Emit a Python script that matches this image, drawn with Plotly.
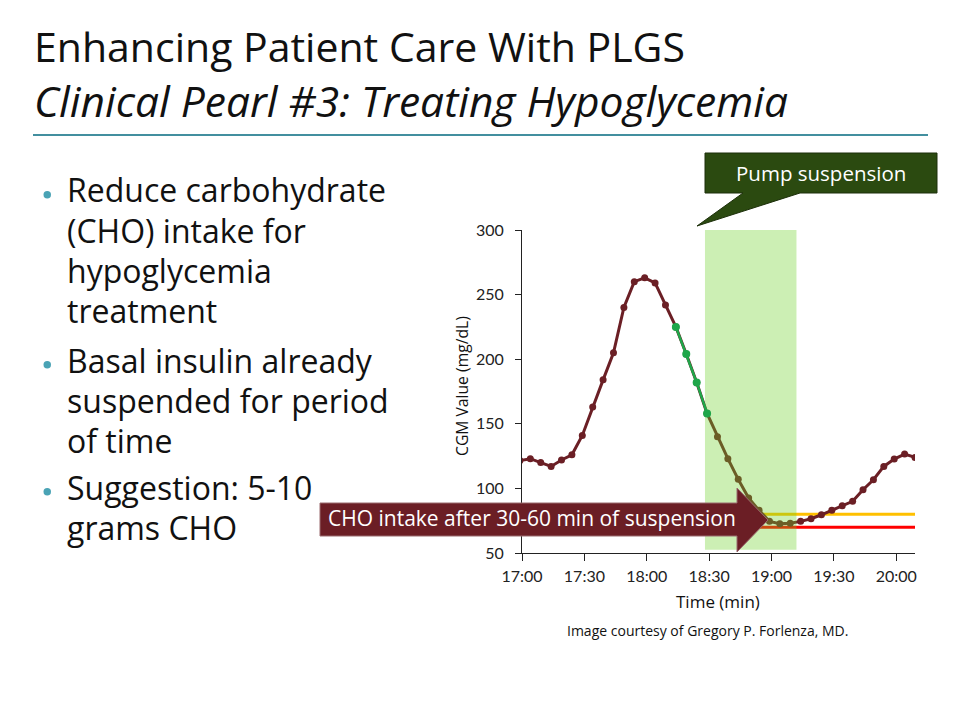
import plotly.graph_objects as go

# ---------------- data ----------------
DAY = "2024-01-01 "
times = ["16:59", "17:04", "17:09", "17:14", "17:19", "17:24", "17:29", "17:34", "17:39",
         "17:44", "17:49", "17:54", "17:59", "18:04", "18:09", "18:14", "18:19", "18:24",
         "18:29", "18:34", "18:39", "18:44", "18:49", "18:54", "18:59", "19:04", "19:09",
         "19:14", "19:19", "19:24", "19:29", "19:34", "19:39", "19:44", "19:49", "19:54",
         "19:59", "20:04", "20:09"]
cgm = [121.5, 123, 120, 117, 122, 126, 141, 163, 184,
       205, 240, 260, 263, 259, 242, 225, 204, 182,
       158, 140, 123, 107, 92.5, 83, 74.5, 72.7, 73,
       74.5, 76.5, 79.6, 83, 86.6, 90, 99, 106.7, 117,
       122.7, 126.6, 124]
falling_times = ["18:14", "18:19", "18:24", "18:29"]
falling_cgm = [225, 204, 182, 158]
suspension_times = ["18:28", "19:12"]
suspension_cgm = [52.6, 302.6]
threshold_times = ["18:53", "20:09"]
threshold_yellow = 80
threshold_red = 70
y_ticks = [50, 100, 150, 200, 250, 300]
x_tick_labels = ["17:00", "17:30", "18:00", "18:30", "19:00", "19:30", "20:00"]
x_range = ["17:00", "20:09"]

title_1 = "Enhancing Patient Care With PLGS"
title_2 = "Clinical Pearl #3: Treating Hypoglycemia"
bullets = [["Reduce carbohydrate", "(CHO) intake for", "hypoglycemia", "treatment"],
           ["Basal insulin already", "suspended for period", "of time"],
           ["Suggestion: 5-10", "grams CHO"]]
callout_pump = "Pump suspension"
callout_cho = "CHO intake after 30-60 min of suspension"
caption = "Image courtesy of Gregory P. Forlenza, MD."

# ---------------- layout geometry ----------------
FONT = "Open Sans"
TICKFONT = "Lato"
L, R, T, B = 522, 45, 230, 167
W, H = 960 - L - R, 720 - T - B
BOTTOM = 720 - B


def px(x):
    return (x - L) / W


def py(y):
    return (BOTTOM - y) / H


def d(t):
    return DAY + t


MAROON = "#6b1f25"
GREEN = "#1fa64a"
TEAL = "#438f9f"

fig = go.Figure()

# threshold lines
fig.add_trace(go.Scatter(x=[d(t) for t in threshold_times], y=[threshold_yellow] * 2,
                         mode="lines", line=dict(color="#ffc000", width=3),
                         hoverinfo="skip", showlegend=False))
fig.add_trace(go.Scatter(x=[d(t) for t in threshold_times], y=[threshold_red] * 2,
                         mode="lines", line=dict(color="#ff0000", width=3),
                         hoverinfo="skip", showlegend=False))
# main CGM trace
fig.add_trace(go.Scatter(x=[d(t) for t in times], y=cgm, mode="lines+markers",
                         line=dict(color=MAROON, width=3),
                         marker=dict(color=MAROON, size=7),
                         hoverinfo="skip", showlegend=False))
# suspension window (semi-transparent)
s0, s1 = d(suspension_times[0]), d(suspension_times[1])
ylo, yhi = suspension_cgm
fig.add_trace(go.Scatter(x=[s0, s1, s1, s0, s0], y=[ylo, ylo, yhi, yhi, ylo],
                         mode="lines", fill="toself", line=dict(width=0),
                         fillcolor="rgba(110,210,40,0.35)",
                         hoverinfo="skip", showlegend=False))
# predicted falling segment
fig.add_trace(go.Scatter(x=[d(t) for t in falling_times], y=falling_cgm, mode="lines+markers",
                         line=dict(color=GREEN, width=2.5),
                         marker=dict(color=GREEN, size=8),
                         hoverinfo="skip", showlegend=False))

fig.update_layout(
    width=960, height=720,
    margin=dict(l=L, r=R, t=T, b=B),
    paper_bgcolor="white", plot_bgcolor="white",
    font=dict(family=FONT, color="#1a1a1a"),
    showlegend=False,
)
fig.update_xaxes(
    type="date", range=[d(x_range[0]), d(x_range[1])],
    tickvals=[d(t) for t in x_tick_labels], ticktext=x_tick_labels,
    showline=True, linecolor="#222", linewidth=1,
    ticks="outside", ticklen=7, tickcolor="#222", ticklabelstandoff=2,
    tickfont=dict(size=16, family=TICKFONT, color="#222"),
    showgrid=False, zeroline=False,
)
fig.update_yaxes(
    range=[50, 300], tickvals=y_ticks,
    showline=True, linecolor="#222", linewidth=1,
    ticks="outside", ticklen=6, tickcolor="#222", ticklabelstandoff=8,
    tickfont=dict(size=16, family=TICKFONT, color="#222"),
    showgrid=False, zeroline=False,
)

shapes = []
ann = []

# title rule
shapes.append(dict(type="line", xref="paper", yref="paper", x0=px(33), x1=px(928),
                   y0=py(135), y1=py(135), line=dict(color=TEAL, width=2)))
ann.append(dict(text=title_1, x=px(32), y=py(46), xref="paper", yref="paper",
                xanchor="left", yanchor="middle", showarrow=False,
                font=dict(size=41, family=FONT, color="#111")))
ann.append(dict(text="<i>" + title_2 + "</i>", x=px(32), y=py(100), xref="paper", yref="paper",
                xanchor="left", yanchor="middle", showarrow=False,
                font=dict(size=42.5, family=FONT, color="#111")))

# bullets
line_centers = [[190, 230, 270, 310], [360, 400, 440], [487, 527]]
for group, ys in zip(bullets, line_centers):
    shapes.append(dict(type="circle", xref="paper", yref="paper",
                       x0=px(43.5), x1=px(51), y0=py(ys[0] + 1), y1=py(ys[0] + 8.5),
                       fillcolor="#4aa3b5", line=dict(width=0)))
    for txt, yc in zip(group, ys):
        ann.append(dict(text=txt, x=px(65), y=py(yc), xref="paper", yref="paper",
                        xanchor="left", yanchor="middle", showarrow=False,
                        font=dict(size=32, family=FONT, color="#111")))

# pump suspension callout
path = "M {a},{b} L {c},{b} L {c},{e} L {f},{e} L {g},{h} L {i},{e} L {a},{e} Z".format(
    a=px(705), b=py(153), c=px(937), e=py(193), f=px(800), g=px(697), h=py(226), i=px(743))
shapes.append(dict(type="path", xref="paper", yref="paper", path=path,
                   fillcolor="#2b4a10", line=dict(color="#1c2f0a", width=1)))
ann.append(dict(text=callout_pump, x=px(821), y=py(173), xref="paper", yref="paper",
                xanchor="center", yanchor="middle", showarrow=False,
                font=dict(size=20.5, family=FONT, color="white")))

# CHO arrow
path = ("M {a},{b1} L {c},{b1} L {c},{h1} L {t},{m} L {c},{h2} L {c},{b2} L {a},{b2} Z").format(
    a=px(320), b1=py(503), c=px(737), h1=py(488), t=px(768), m=py(520), h2=py(552), b2=py(536))
shapes.append(dict(type="path", xref="paper", yref="paper", path=path,
                   fillcolor="#6b1e25", line=dict(color="#9a6a6e", width=1)))
ann.append(dict(text=callout_cho, x=px(532), y=py(518), xref="paper", yref="paper",
                xanchor="center", yanchor="middle", showarrow=False,
                font=dict(size=21, family=FONT, color="white")))

# axis titles
ann.append(dict(text="CGM Value (mg/dL)", x=px(462), y=py(386), xref="paper", yref="paper",
                xanchor="center", yanchor="middle", showarrow=False, textangle=-90,
                font=dict(size=15.7, family=FONT, color="#111")))
ann.append(dict(text="Time (min)", x=px(718), y=py(601), xref="paper", yref="paper",
                xanchor="center", yanchor="middle", showarrow=False,
                font=dict(size=17, family=FONT, color="#111")))
ann.append(dict(text=caption, x=px(707), y=py(630), xref="paper", yref="paper",
                xanchor="center", yanchor="middle", showarrow=False,
                font=dict(size=14, family=FONT, color="#111")))

fig.update_layout(shapes=shapes, annotations=ann)
fig.write_html("out.html")
